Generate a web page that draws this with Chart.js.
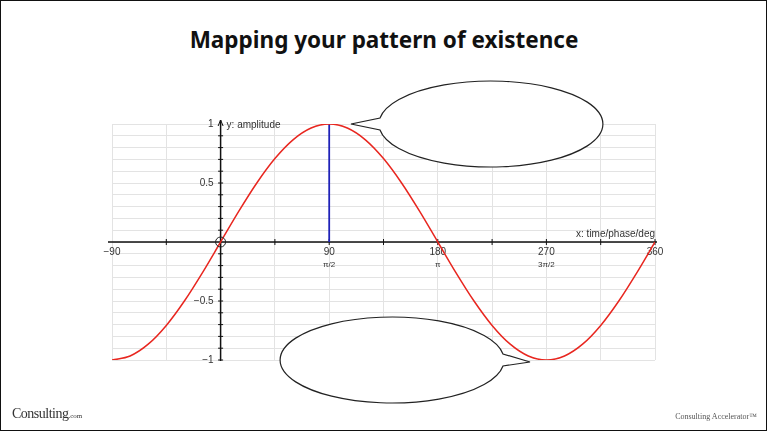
<!DOCTYPE html>
<html lang="en">
<head>
  <meta charset="UTF-8">
  <title>Mapping your pattern of existence</title>
  <script src="https://cdn.jsdelivr.net/npm/chart.js"></script>
  <style>
    html, body {
      margin: 0;
      padding: 0;
      background: #fff;
    }
    .slide {
      position: relative;
      width: 768px;
      height: 432px;
      overflow: hidden;
      background: #fff;
    }
    .frame {
      position: absolute;
      left: 0; top: 0;
      width: 765px; height: 429px;
      border: 1.5px solid #111;
      pointer-events: none;
    }
    h2 {
      position: absolute;
      top: 24px;
      left: 0;
      width: 768px;
      margin: 0;
      text-align: center;
      font-family: 'Noto Sans', sans-serif;
      font-weight: 700;
      font-size: 22.5px;
      color: #111;
    }
    canvas#sineChart {
      position: absolute;
      left: 0; top: 0;
    }
    svg.bubbles {
      position: absolute;
      left: 0; top: 0;
    }
    .logo {
      position: absolute;
      left: 12px;
      top: 406px;
      font-family: 'Liberation Serif', serif;
      font-size: 14px;
      color: #333;
      letter-spacing: -0.5px;
    }
    .logo small { font-size: 7px; letter-spacing: 0; }
    .accel {
      position: absolute;
      right: 11px;
      top: 412px;
      font-family: 'Liberation Serif', serif;
      font-size: 8px;
      color: #555;
    }
  </style>
</head>
<body>
<div class="slide">
  <h2>Mapping your pattern of existence</h2>
  <canvas id="sineChart" width="768" height="432"></canvas>
  <svg class="bubbles" width="768" height="432">
    <path d="M 380 118 A 112 43 0 1 1 380 130 L 351 124 Z" fill="#fff" stroke="#222" stroke-width="1.2"/>
    <path d="M 503 354 A 112 43 0 1 0 503 366 L 530 362 Z" fill="#fff" stroke="#222" stroke-width="1.2"/>
  </svg>
  <div class="logo">Consulting<small>.com</small></div>
  <div class="accel">Consulting Accelerator&trade;</div>
  <div class="frame"></div>
</div>

<script>
  // phase in degrees and amplitude
  const phaseDeg = [-90, -75, -60, -45, -30, -15, 0, 15, 30, 45, 60, 75, 90, 105, 120, 135,
                    150, 165, 180, 195, 210, 225, 240, 255, 270, 285, 300, 315, 330, 345, 360];
  const amplitude = [-1, -0.966, -0.866, -0.707, -0.5, -0.259, 0, 0.259, 0.5, 0.707, 0.866, 0.966, 1,
                     0.966, 0.866, 0.707, 0.5, 0.259, 0, -0.259, -0.5, -0.707, -0.866, -0.966, -1,
                     -0.966, -0.866, -0.707, -0.5, -0.259, 0];

  const xTicks = [-90, 90, 180, 270, 360];
  const xTickLabels = ['\u221290', '90', '180', '270', '360'];
  const xPiLabels = ['', '\u03c0/2', '\u03c0', '3\u03c0/2', ''];
  const yTicks = [1, 0.5, -0.5, -1];
  const yTickLabels = ['1', '0.5', '\u22120.5', '\u22121'];

  const peakMarker = [{ x: 90, y: 0 }, { x: 90, y: 1 }];
  const originMarker = [{ x: 0, y: 0 }];

  // axes through the origin, tick marks and labels
  const crossAxes = {
    id: 'crossAxes',
    beforeDatasetsDraw(chart) {
      const { ctx, chartArea: a, scales: { x, y } } = chart;
      const x0 = x.getPixelForValue(0);
      const y0 = y.getPixelForValue(0);
      ctx.save();
      ctx.strokeStyle = '#111';
      ctx.lineWidth = 1.5;
      ctx.beginPath();
      ctx.moveTo(a.left - 4, y0);
      ctx.lineTo(a.right + 2, y0);
      ctx.moveTo(x0, a.bottom + 1);
      ctx.lineTo(x0, a.top - 4);
      ctx.stroke();

      // arrow head on y axis
      ctx.lineWidth = 1;
      ctx.beginPath();
      ctx.moveTo(x0 - 2.5, a.top + 2);
      ctx.lineTo(x0, a.top - 4);
      ctx.lineTo(x0 + 2.5, a.top + 2);
      ctx.stroke();

      // tick marks
      ctx.lineWidth = 1;
      ctx.beginPath();
      for (let v = -45; v <= 360; v += 45) {
        const px = x.getPixelForValue(v);
        ctx.moveTo(px, y0 - 3);
        ctx.lineTo(px, y0 + 3);
      }
      for (let i = -10; i <= 9; i++) {
        if (i === 0) continue;
        const py = y.getPixelForValue(i / 10);
        ctx.moveTo(x0 - 2.5, py);
        ctx.lineTo(x0 + 2.5, py);
      }
      ctx.stroke();

      // labels
      ctx.fillStyle = '#333';
      ctx.font = '10px "Liberation Sans", Arial, sans-serif';
      ctx.textAlign = 'center';
      ctx.textBaseline = 'middle';
      xTicks.forEach((v, i) => {
        const px = x.getPixelForValue(v);
        ctx.fillText(xTickLabels[i], px, y0 + 10);
      });
      ctx.font = '8px "Liberation Sans", Arial, sans-serif';
      xTicks.forEach((v, i) => {
        const px = x.getPixelForValue(v);
        if (xPiLabels[i]) ctx.fillText(xPiLabels[i], px, y0 + 23);
      });
      ctx.font = '10px "Liberation Sans", Arial, sans-serif';
      ctx.textAlign = 'right';
      yTicks.forEach((v, i) => {
        ctx.fillText(yTickLabels[i], x0 - 7, y.getPixelForValue(v));
      });
      ctx.textAlign = 'left';
      ctx.fillText('y: amplitude', x0 + 6, a.top + 1);
      ctx.textAlign = 'right';
      ctx.fillText('x: time/phase/deg', a.right, y0 - 8);
      ctx.restore();
    }
  };

  const ctx = document.getElementById('sineChart').getContext('2d');

  new Chart(ctx, {
    type: 'scatter',
    data: {
      datasets: [
        {
          label: 'sine',
          data: phaseDeg.map((d, i) => ({ x: d, y: amplitude[i] })),
          showLine: true,
          borderColor: '#e8261f',
          borderWidth: 1.5,
          pointRadius: 0,
          tension: 0.4,
          cubicInterpolationMode: 'monotone',
          order: 1
        },
        {
          label: 'peak',
          data: peakMarker,
          showLine: true,
          borderColor: '#1f22b8',
          borderWidth: 1.8,
          pointRadius: 0,
          order: 2
        },
        {
          label: 'origin',
          data: originMarker,
          pointRadius: 5,
          pointBorderColor: '#222',
          pointBackgroundColor: 'rgba(0,0,0,0)',
          pointBorderWidth: 1,
          order: 0
        }
      ]
    },
    options: {
      responsive: false,
      animation: false,
      layout: { padding: { left: 112, right: 113, top: 124, bottom: 72 } },
      plugins: {
        legend: { display: false },
        tooltip: { enabled: false }
      },
      scales: {
        x: {
          type: 'linear',
          min: -90,
          max: 360,
          ticks: { display: false, stepSize: 45 },
          grid: { color: '#e3e3e3', drawTicks: false, lineWidth: 1 },
          border: { display: false }
        },
        y: {
          type: 'linear',
          min: -1,
          max: 1,
          ticks: { display: false, stepSize: 0.1 },
          grid: { color: '#e3e3e3', drawTicks: false, lineWidth: 1 },
          border: { display: false }
        }
      }
    },
    plugins: [crossAxes]
  });
</script>
</body>
</html>
